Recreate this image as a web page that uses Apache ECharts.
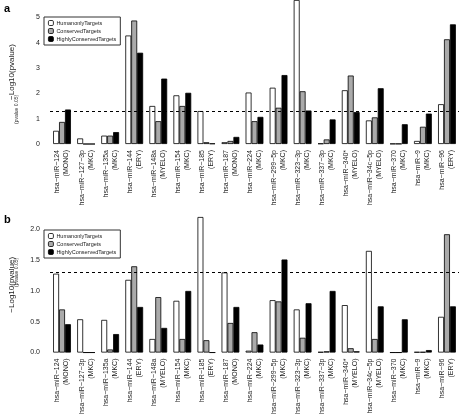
<!DOCTYPE html>
<html>
<head>
<meta charset="utf-8">
<script src="https://cdn.jsdelivr.net/npm/echarts@6/dist/echarts.min.js"></script>
<style>html,body{margin:0;padding:0;background:#fff}#chart{width:474px;height:417px}</style>
</head>
<body>
<div id="chart"></div>
<script>
// categories (miRNA + lineage)
const categories = [
  'hsa−miR−124\n(MONO)', 'hsa−miR−127−3p\n(MKC)', 'hsa−miR−135a\n(MKC)', 'hsa−miR−144\n(ERY)',
  'hsa−miR−148a\n(MYELO)', 'hsa−miR−154\n(MKC)', 'hsa−miR−185\n(ERY)', 'hsa−miR−187\n(MONO)',
  'hsa−miR−224\n(MKC)', 'hsa−miR−299−5p\n(MKC)', 'hsa−miR−323−3p\n(MKC)', 'hsa−miR−337−3p\n(MKC)',
  'hsa−miR−340*\n(MYELO)', 'hsa−miR−34c−5p\n(MYELO)', 'hsa−miR−370\n(MKC)', 'hsa−miR−9\n(MKC)', 'hsa−miR−96\n(ERY)'
]
const seriesNames = ['HumanonlyTargets', 'ConservedTargets', 'HighlyConservedTargets']

// panel a
const aHuman = [0.52, 0.22, 0.33, 4.28, 1.5, 1.92, 1.3, 0.07, 2.03, 2.22, 5.68, 0.02, 2.12, 0.93, 0.01, 0.12, 1.57]
const aConserved = [0.87, 0, 0.33, 4.87, 0.9, 1.5, 0.07, 0.12, 0.9, 1.43, 2.08, 0.18, 2.7, 1.05, 0.01, 0.68, 4.13]
const aHighly = [1.36, 0, 0.47, 3.6, 2.58, 2.02, 0.02, 0.28, 1.07, 2.72, 1.32, 0.97, 1.26, 2.2, 0.78, 1.2, 4.72]

// panel b
const bHuman = [1.28, 0.54, 0.53, 1.18, 0.22, 0.84, 2.2, 1.3, 0.03, 0.85, 0.7, 0.01, 0.77, 1.65, 0, 0.01, 0.58]
const bConserved = [0.7, 0, 0.05, 1.4, 0.9, 0.22, 0.2, 0.48, 0.33, 0.83, 0.24, 0.02, 0.07, 0.22, 0, 0.01, 1.92]
const bHighly = [0.46, 0, 0.3, 0.74, 0.4, 1.0, 0, 0.74, 0.13, 1.51, 0.8, 1.0, 0.02, 0.75, 0.54, 0.04, 0.75]

const threshold = -Math.log10(0.05)

const font = 'Liberation Sans, Arial, sans-serif'
const fills = ['#ffffff', '#aaaaaa', '#000000']

function makeSeries(idx, values) {
  return values.map((vals, i) => {
    const s = {
      name: seriesNames[i],
      type: 'bar',
      xAxisIndex: idx,
      yAxisIndex: idx,
      data: vals,
      barGap: '0%',
      barCategoryGap: '26%',
      itemStyle: { color: fills[i], borderColor: '#000', borderWidth: 0.8 }
    }
    if (i === 0) {
      s.markLine = {
        silent: true,
        symbol: 'none',
        label: { show: false },
        lineStyle: { color: '#000', type: [3, 3], width: 1 },
        data: [{ yAxis: threshold }]
      }
    }
    return s
  })
}

function xAxis(idx) {
  return {
    type: 'category',
    gridIndex: idx,
    data: categories,
    axisLine: { show: false },
    axisTick: { show: false },
    axisLabel: { rotate: 90, fontSize: 7, color: '#222', fontFamily: font, interval: 0, margin: 6, lineHeight: 9 }
  }
}

function yAxis(idx, max, interval, digits) {
  return {
    type: 'value',
    gridIndex: idx,
    min: 0,
    max: max,
    interval: interval,
    name: '−Log10(pvalue)',
    nameLocation: 'middle',
    nameGap: 34,
    nameTextStyle: { fontSize: 8, color: '#222', fontFamily: font },
    splitLine: { show: false },
    axisLine: { show: false },
    axisTick: { show: false },
    axisLabel: {
      fontSize: 7, color: '#222', fontFamily: font, margin: 10, showMaxLabel: false,
      formatter: v => v.toFixed(digits)
    }
  }
}

function legend(top) {
  return {
    data: seriesNames,
    orient: 'vertical',
    left: 44,
    top: top,
    itemWidth: 5,
    itemHeight: 5,
    itemGap: 2,
    padding: [3, 4, 3, 4],
    borderColor: '#333',
    borderWidth: 1,
    textStyle: { fontSize: 5.5, color: '#222', fontFamily: font, padding: [0, 0, 0, -2] },
    itemStyle: { borderColor: '#000', borderWidth: 0.8 }
  }
}

const chart = echarts.init(document.getElementById('chart'))
chart.setOption({
  animation: false,
  backgroundColor: '#fff',
  textStyle: { fontFamily: font },
  grid: [
    { left: 47, right: 15, top: 0, bottom: 273 },
    { left: 47, right: 15, top: 217, bottom: 58 }
  ],
  xAxis: [xAxis(0), xAxis(1)],
  yAxis: [yAxis(0, 5.68, 1, 0), yAxis(1, 2.2, 0.5, 1)],
  legend: [legend(17), legend(230)],
  series: [
    ...makeSeries(0, [aHuman, aConserved, aHighly]),
    ...makeSeries(1, [bHuman, bConserved, bHighly])
  ],
  graphic: [
    { type: 'text', left: 4, top: 3, style: { text: 'a', font: 'bold 11px ' + font, fill: '#000' } },
    { type: 'text', left: 4, top: 214, style: { text: 'b', font: 'bold 11px ' + font, fill: '#000' } },
    { type: 'text', x: 14, y: 124, rotation: Math.PI / 2, style: { text: '(pvalue 0.05)', font: '5px ' + font, fill: '#333' } },
    { type: 'text', x: 14, y: 287, rotation: Math.PI / 2, style: { text: '(pvalue 0.05)', font: '5px ' + font, fill: '#333' } }
  ]
})
</script>
</body>
</html>
